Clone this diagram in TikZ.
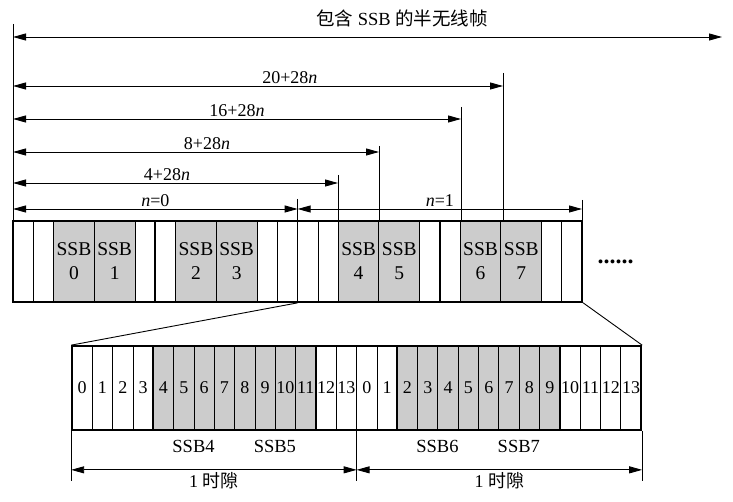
\documentclass[tikz,border=0pt]{standalone}
\usepackage{fontspec}
\setmainfont{Liberation Serif}
\newfontfamily\zhfont{Noto Sans CJK SC}
\usetikzlibrary{arrows.meta,positioning}

\begin{document}
\begin{tikzpicture}[x=1pt,y=-1pt,
		cellline/.style={line width=0.9pt},
		thickline/.style={line width=1.7pt},
		ssbcell/.style={draw,cellline,fill=black!20,minimum width=40.66pt,minimum height=81pt,inner sep=0pt,align=center,font=\fontsize{19.5}{24}\selectfont},
		symcell/.style={draw,cellline,minimum width=20.33pt,minimum height=84pt,inner sep=0pt,font=\fontsize{18}{20}\selectfont},
		dim/.style={cellline,{Triangle[length=13pt,width=7pt]}-{Triangle[length=13pt,width=7pt]}},
		lab/.style={font=\fontsize{18}{21}\selectfont,inner sep=2pt},
		captext/.style={font=\fontsize{18.5}{22}\selectfont}]
	\useasboundingbox (0,0) rectangle (733,502);
	\foreach \c [count=\i from 0] in {3,5,9,11,17,19,23,25}
		\node[ssbcell] (ssb\i) at (13+\c*20.33,261.5) {SSB\\\i};
	\foreach \k in {1,2,6,12,13,15,16,20,22,26,27}
		\draw[cellline] (13+\k*20.33,221) -- ++(0,81);
	\foreach \k in {7,14,21}
		\draw[thickline] (13+\k*20.33,221) -- ++(0,81);
	\node[draw,thickline,minimum width=569.3pt,minimum height=81pt,inner sep=0pt] (topframe) at (297.65,261.5) {};
	\node[font=\bfseries\fontsize{24}{26}\selectfont,right=11pt of topframe.east] (dots) {......};
	\node[captext] (title) at (402,18) {{\zhfont 包含} SSB {\zhfont 的半无线帧}};
	\coordinate (tk0) at (13,24);
	\coordinate (tk20) at (503,73);
	\coordinate (tk16) at (461,107);
	\coordinate (tk8) at (379,146);
	\coordinate (tk4) at (338,175);
	\coordinate (tkn0) at (297.65,199);
	\coordinate (tkn1) at (582,200);
	\coordinate (hfend) at (722,37);
	\foreach \t in {tk0,tk20,tk16,tk8,tk4,tkn0,tkn1}
		\draw[cellline] (\t) -- (\t |- topframe.north);
	\draw[dim] (hfend -| tk0) -- (hfend);
	\draw[dim] (tk0 |- 0,86) -- (tk20 |- 0,86) node[lab,pos=0.565,above] (l20) {20+28\textit{n}};
	\draw[dim] (tk0 |- 0,119) -- (tk16 |- 0,119) node[lab,midway,above] (l16) {16+28\textit{n}};
	\draw[dim] (tk0 |- 0,152) -- (tk8 |- 0,152) node[lab,pos=0.53,above] (l8) {8+28\textit{n}};
	\draw[dim] (tk0 |- 0,183) -- (tk4 |- 0,183) node[lab,pos=0.474,above] (l4) {4+28\textit{n}};
	\draw[dim] (tk0 |- 0,209) -- (tkn0 |- 0,209) node[lab,midway,above] (ln0) {\textit{n}=0};
	\draw[dim] (tkn0 |- 0,209) -- (tkn1 |- 0,209) node[lab,midway,above] (ln1) {\textit{n}=1};
	\foreach \k in {0,...,27}{
		\pgfmathtruncatemacro\symno{mod(\k,14)}
		\pgfmathtruncatemacro\isgray{mod(\k,12)>3}
		\ifnum\isgray=1 \def\symfill{black!20}\else\def\symfill{white}\fi
		\node[symcell,fill=\symfill] (sym\k) at (82.165+\k*20.33,388) {\symno};
	}
	\foreach \k in {4,8,12,14,16,20,24}
		\draw[thickline] (72+\k*20.33,346) -- ++(0,84);
	\node[draw,thickline,minimum width=569.3pt,minimum height=84pt,inner sep=0pt] (botframe) at (356.65,388) {};
	\draw[cellline] (topframe.south) -- (botframe.north west);
	\draw[cellline] (topframe.south east) -- (botframe.north east);
	\node[captext,below=6pt of sym6.south west] (c4) {SSB4};
	\node[captext,below=6pt of sym10.south west] (c5) {SSB5};
	\node[captext,below=6pt of sym18.south west] (c6) {SSB6};
	\node[captext,below=6pt of sym22.south west] (c7) {SSB7};
	\draw[cellline] (botframe.south west) -- ++(0,50) coordinate (bk0);
	\draw[cellline] (botframe.south) -- ++(0,50) coordinate (bk1);
	\draw[cellline] (botframe.south east) -- ++(0,50) coordinate (bk2);
	\draw[dim] ([yshift=-39pt]botframe.south west) -- ([yshift=-39pt]botframe.south) node[lab,midway,below=0pt] (slot0) {1 {\zhfont 时隙}};
	\draw[dim] ([yshift=-39pt]botframe.south) -- ([yshift=-39pt]botframe.south east) node[lab,midway,below=0pt] (slot1) {1 {\zhfont 时隙}};
\end{tikzpicture}
\end{document}
